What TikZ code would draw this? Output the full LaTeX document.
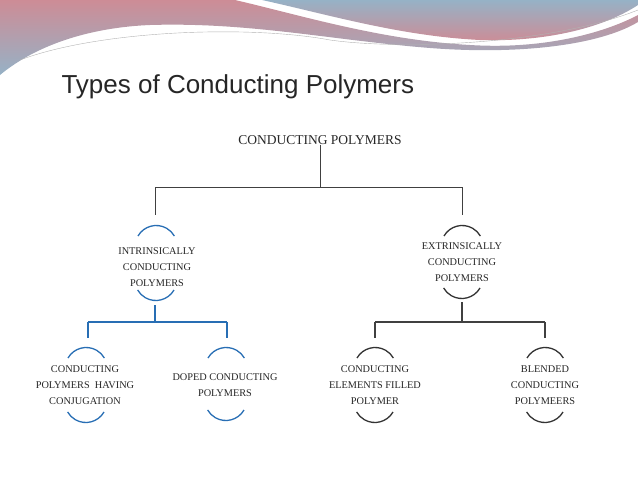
\documentclass[tikz,border=0pt]{standalone}
\usepackage{fontspec}
\setmainfont{Liberation Serif}
\newfontfamily\titlefont{Liberation Sans}
\definecolor{hpink}{RGB}{205,140,150}
\definecolor{hblue}{RGB}{150,178,198}
\definecolor{bline}{RGB}{40,110,180}
\begin{document}
\begin{tikzpicture}[x=1pt,y=-1pt,
  lbl/.style={align=center,font=\fontsize{10.3}{16}\selectfont,inner sep=0pt,text=black!85},
  bl/.style={draw=bline,line width=1.8pt},
  bk/.style={draw=black!75,line width=0.8pt},
  arcb/.style={line width=1.3pt,draw=#1}]
\useasboundingbox (0,0) rectangle (638,479);
% header swooshes
\shade[top color=hpink,bottom color=hblue]
 (0,0) -- (235,0) .. controls (300,15) and (380,40) .. (470,45) .. controls (550,50) and (610,30) .. (638,15)
 -- (638,22) .. controls (600,45) and (520,55) .. (430,48) .. controls (330,40) and (250,22) .. (150,25)
 .. controls (80,28) and (30,50) .. (0,75) -- cycle;
\shade[top color=hblue,bottom color=hpink]
 (262,0) -- (638,0) -- (638,5) .. controls (600,30) and (540,42) .. (480,40) .. controls (400,36) and (330,15) .. (262,0) -- cycle;
\draw[gray!60,line width=0.4pt] (20,60) .. controls (100,30) and (250,25) .. (330,40) .. controls (400,50) and (550,45) .. (638,10);
\node[anchor=base west,font=\titlefont\fontsize{26}{30}\selectfont,text=black!85] (title) at (58,93) {Types of Conducting Polymers};
% root
\node[lbl,font=\fontsize{13.5}{16}\selectfont] (root) at (320,140) {CONDUCTING POLYMERS};
\coordinate (r1) at (320,187);
\coordinate (jl) at (155,187);
\coordinate (jr) at (462,187);
\draw[bk] (root.south) -- (r1) (jl) -- (jr);
\coordinate (ltop) at (155,215);
\coordinate (rtop) at (462,215);
\draw[bk] (jl) -- (ltop) (jr) -- (rtop);
% left main
\node[lbl] (intr) at (157,267) {INTRINSICALLY\\CONDUCTING\\POLYMERS};
\draw[arcb=bline] (138,236) arc[start angle=210,end angle=330,radius=21];
\draw[arcb=bline] (174,290) arc[start angle=30,end angle=150,radius=21];
\coordinate (lb) at (155,305);
\coordinate (lh1) at (88,322);
\coordinate (lh2) at (227,322);
\coordinate (lc1) at (88,338);
\coordinate (lc2) at (227,338);
\draw[bl] (lb) -- (155,322);
\draw[bl] (lh1) -- (lh2);
\draw[bl] (lh1) -- (lc1) (lh2) -- (lc2);
\node[lbl] (conj) at (85,385) {CONDUCTING\\POLYMERS\ \ HAVING\\CONJUGATION};
\draw[arcb=bline] (68,358) arc[start angle=210,end angle=330,radius=21];
\draw[arcb=bline] (104,412) arc[start angle=30,end angle=150,radius=21];
\node[lbl] (doped) at (225,385) {DOPED CONDUCTING\\POLYMERS};
\draw[arcb=bline] (208,358) arc[start angle=210,end angle=330,radius=21];
\draw[arcb=bline] (244,410) arc[start angle=30,end angle=150,radius=21];
% right main
\node[lbl] (extr) at (462,262) {EXTRINSICALLY\\CONDUCTING\\POLYMERS};
\draw[arcb=black!80] (444,236) arc[start angle=210,end angle=330,radius=21];
\draw[arcb=black!80] (480,288) arc[start angle=30,end angle=150,radius=21];
\coordinate (rb) at (462,302);
\coordinate (rh1) at (375,322);
\coordinate (rh2) at (545,322);
\coordinate (rc1) at (375,338);
\coordinate (rc2) at (545,338);
\draw[bk,line width=1.1pt] (rb) -- (462,322) (rh1) -- (rh2) (rh1) -- (rc1) (rh2) -- (rc2);
\node[lbl] (elem) at (375,385) {CONDUCTING\\ELEMENTS FILLED\\POLYMER};
\draw[arcb=black!80] (357,358) arc[start angle=210,end angle=330,radius=21];
\draw[arcb=black!80] (393,412) arc[start angle=30,end angle=150,radius=21];
\node[lbl] (blend) at (545,385) {BLENDED\\CONDUCTING\\POLYMEERS};
\draw[arcb=black!80] (527,358) arc[start angle=210,end angle=330,radius=21];
\draw[arcb=black!80] (563,412) arc[start angle=30,end angle=150,radius=21];
\end{tikzpicture}
\end{document}
